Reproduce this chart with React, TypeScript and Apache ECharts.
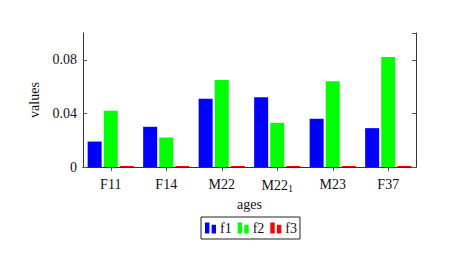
import React, { useEffect, useRef } from "react";
import * as echarts from "echarts";

const categories = ["F11", "F14", "M22", "M22_1", "M23", "F37"];
const f1 = [0.019, 0.030, 0.051, 0.052, 0.036, 0.029];
const f2 = [0.042, 0.022, 0.065, 0.033, 0.064, 0.082];
const f3 = [0.0002, 0.0002, 0.0005, 0.0002, 0.0005, 0.0002];
const yTicks = [0, 0.04, 0.08];

const FONT = "'Liberation Serif', 'Times New Roman', serif";
const ICON = "path://M0,0 L4,0 L4,10 L0,10 Z M6,2 L10,2 L10,10 L6,10 Z";
const TXT = "#111";

export default function App() {
  const ref = useRef<HTMLDivElement>(null);
  useEffect(() => {
    const chart = echarts.init(ref.current!, null, { renderer: "svg" });
    const axisLine = { show: true, lineStyle: { color: "#333", width: 1 } };
    const xTick = { show: true, inside: true, alignWithLabel: true, interval: 0, length: 4, lineStyle: { color: "#555" } };
    chart.setOption({
      animation: false,
      textStyle: { fontFamily: FONT },
      grid: { left: 83, top: 33, right: 58, bottom: 98 },
      legend: {
        data: [
          { name: "f1", icon: ICON },
          { name: "f2", icon: ICON },
          { name: "f3", icon: ICON },
        ],
        left: 201,
        top: 217,
        itemWidth: 11,
        itemHeight: 11,
        itemGap: 6,
        padding: [4, 3, 4, 4],
        borderColor: "#222",
        borderWidth: 1,
        borderRadius: 0,
        textStyle: { fontFamily: FONT, fontSize: 14, color: TXT, padding: [0, 0, 0, -1] },
      },
      xAxis: [
        {
          type: "category",
          data: categories,
          position: "bottom",
          axisLine,
          axisTick: xTick,
          axisLabel: {
            interval: 0,
            fontFamily: FONT,
            fontSize: 14,
            color: TXT,
            margin: 10,
            formatter: (v: string) => (v.includes("_") ? `${v.split("_")[0]}{sub|${v.split("_")[1]}}` : v),
            rich: { sub: { fontFamily: FONT, fontSize: 10, color: TXT, verticalAlign: "bottom", padding: [6, 0, 0, 0] } },
          },
          name: "ages",
          nameLocation: "middle",
          nameGap: 25,
          nameTextStyle: { fontFamily: FONT, fontSize: 14, color: TXT },
        },
        {
          type: "category",
          data: categories,
          position: "top",
          axisLine,
          axisTick: xTick,
          axisLabel: { show: false, interval: 0 },
        },
      ],
      yAxis: [
        {
          type: "value",
          min: 0,
          max: 0.1,
          interval: 0.04,
          position: "left",
          axisLine,
          splitLine: { show: false },
          axisTick: { show: true, inside: true, length: 4, lineStyle: { color: "#555" } },
          axisLabel: {
            fontFamily: FONT,
            fontSize: 14,
            color: TXT,
            margin: 6,
            showMaxLabel: false,
            formatter: (v: number) => (yTicks.some((t) => Math.abs(t - v) < 1e-9) ? String(+v.toFixed(2)) : ""),
          },
          name: "values",
          nameLocation: "middle",
          nameGap: 35,
          nameTextStyle: { fontFamily: FONT, fontSize: 14, color: TXT },
        },
        {
          type: "value",
          min: 0,
          max: 0.1,
          interval: 0.04,
          position: "right",
          axisLine,
          splitLine: { show: false },
          axisTick: { show: true, inside: true, length: 4, lineStyle: { color: "#555" } },
          axisLabel: { show: false },
        },
      ],
      series: [
        { name: "f1", type: "bar", data: f1, barWidth: 14, barGap: "15%", itemStyle: { color: "#0000ff" } },
        { name: "f2", type: "bar", data: f2, barWidth: 14, barGap: "15%", itemStyle: { color: "#00ff00" } },
        { name: "f3", type: "bar", data: f3, barWidth: 14, barGap: "15%", barMinHeight: 1, itemStyle: { color: "#ff0000" } },
      ],
    });
    return () => chart.dispose();
  }, []);
  return <div ref={ref} style={{ width: 474, height: 265, margin: -8 }} />;
}
